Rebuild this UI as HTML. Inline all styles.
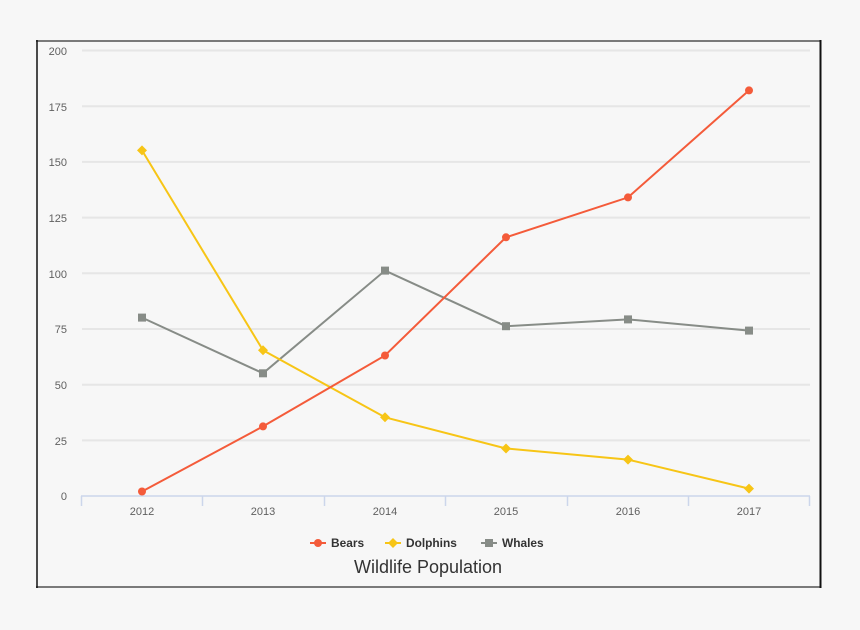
<!DOCTYPE html>
<html><head><meta charset="utf-8"><style>
html,body{margin:0;padding:0;background:#f7f7f7;}
svg{display:block;font-family:"Liberation Sans",Arial,sans-serif;}
</style></head><body>
<svg width="860" height="630" viewBox="0 0 860 630" xmlns="http://www.w3.org/2000/svg">
<rect width="860" height="630" fill="#f7f7f7"/>
<!-- frame -->
<line x1="36" y1="41" x2="821" y2="41" stroke="#7a7a7a" stroke-width="2"/>
<line x1="36" y1="587" x2="821" y2="587" stroke="#7a7a7a" stroke-width="2"/>
<line x1="37" y1="40" x2="37" y2="588" stroke="#111" stroke-width="1.5"/>
<line x1="820.5" y1="40" x2="820.5" y2="588" stroke="#111" stroke-width="2"/>
<!-- gridlines -->
<g stroke="#e6e6e6" stroke-width="2">
<line x1="82" y1="50.5" x2="810" y2="50.5"/>
<line x1="82" y1="106.2" x2="810" y2="106.2"/>
<line x1="82" y1="161.9" x2="810" y2="161.9"/>
<line x1="82" y1="217.6" x2="810" y2="217.6"/>
<line x1="82" y1="273.3" x2="810" y2="273.3"/>
<line x1="82" y1="329" x2="810" y2="329"/>
<line x1="82" y1="384.7" x2="810" y2="384.7"/>
<line x1="82" y1="440.4" x2="810" y2="440.4"/>
</g>
<!-- x axis -->
<g stroke="#ccd6eb" stroke-width="1.5">
<line x1="81" y1="496" x2="810" y2="496"/>
<line x1="81.5" y1="496" x2="81.5" y2="506"/>
<line x1="202.5" y1="496" x2="202.5" y2="506"/>
<line x1="324.5" y1="496" x2="324.5" y2="506"/>
<line x1="445.5" y1="496" x2="445.5" y2="506"/>
<line x1="567.5" y1="496" x2="567.5" y2="506"/>
<line x1="688.5" y1="496" x2="688.5" y2="506"/>
<line x1="809.5" y1="496" x2="809.5" y2="506"/>
</g>
<!-- y labels -->
<g fill="#606060" font-size="11" text-anchor="end">
<text x="67" y="55">200</text>
<text x="67" y="111">175</text>
<text x="67" y="166">150</text>
<text x="67" y="222">125</text>
<text x="67" y="278">100</text>
<text x="67" y="333">75</text>
<text x="67" y="389">50</text>
<text x="67" y="445">25</text>
<text x="67" y="500">0</text>
</g>
<!-- x labels -->
<g fill="#606060" font-size="11" text-anchor="middle">
<text x="142" y="515">2012</text>
<text x="263" y="515">2013</text>
<text x="385" y="515">2014</text>
<text x="506" y="515">2015</text>
<text x="628" y="515">2016</text>
<text x="749" y="515">2017</text>
</g>
<!-- Whales -->
<polyline fill="none" stroke="#878c87" stroke-width="2" points="142,317.6 263,373.3 385,270.6 506,326.2 628,319.4 749,330.6"/>
<g fill="#878c87">
<rect x="138" y="313.6" width="8" height="8"/>
<rect x="259" y="369.3" width="8" height="8"/>
<rect x="381" y="266.6" width="8" height="8"/>
<rect x="502" y="322.2" width="8" height="8"/>
<rect x="624" y="315.4" width="8" height="8"/>
<rect x="745" y="326.6" width="8" height="8"/>
</g>
<!-- Dolphins -->
<polyline fill="none" stroke="#f7c516" stroke-width="2" points="142,150.4 263,350.3 385,417.3 506,448.5 628,459.6 749,488.6"/>
<g fill="#f7c516">
<path d="M142,145.4 L147,150.4 L142,155.4 L137,150.4Z"/>
<path d="M263,345.3 L268,350.3 L263,355.3 L258,350.3Z"/>
<path d="M385,412.3 L390,417.3 L385,422.3 L380,417.3Z"/>
<path d="M506,443.5 L511,448.5 L506,453.5 L501,448.5Z"/>
<path d="M628,454.6 L633,459.6 L628,464.6 L623,459.6Z"/>
<path d="M749,483.6 L754,488.6 L749,493.6 L744,488.6Z"/>
</g>
<!-- Bears -->
<polyline fill="none" stroke="#f45b3a" stroke-width="2" points="142,491.5 263,426.4 385,355.5 506,237.3 628,197.4 749,90.4"/>
<g fill="#f45b3a">
<circle cx="142" cy="491.5" r="4"/>
<circle cx="263" cy="426.4" r="4"/>
<circle cx="385" cy="355.5" r="4"/>
<circle cx="506" cy="237.3" r="4"/>
<circle cx="628" cy="197.4" r="4"/>
<circle cx="749" cy="90.4" r="4"/>
</g>
<!-- legend -->
<g font-size="11.9" font-weight="bold" fill="#333">
<line x1="310" y1="543" x2="326" y2="543" stroke="#f45b3a" stroke-width="2"/>
<circle cx="318" cy="543" r="4" fill="#f45b3a"/>
<text x="331" y="547">Bears</text>
<line x1="385" y1="543" x2="401" y2="543" stroke="#f7c516" stroke-width="2"/>
<path d="M393,538 L398,543 L393,548 L388,543Z" fill="#f7c516"/>
<text x="406" y="547">Dolphins</text>
<line x1="481" y1="543" x2="497" y2="543" stroke="#878c87" stroke-width="2"/>
<rect x="485" y="539" width="8" height="8" fill="#878c87"/>
<text x="502" y="547">Whales</text>
</g>
<text x="428" y="573" font-size="18" fill="#333" text-anchor="middle">Wildlife Population</text>
</svg>
</body></html>
